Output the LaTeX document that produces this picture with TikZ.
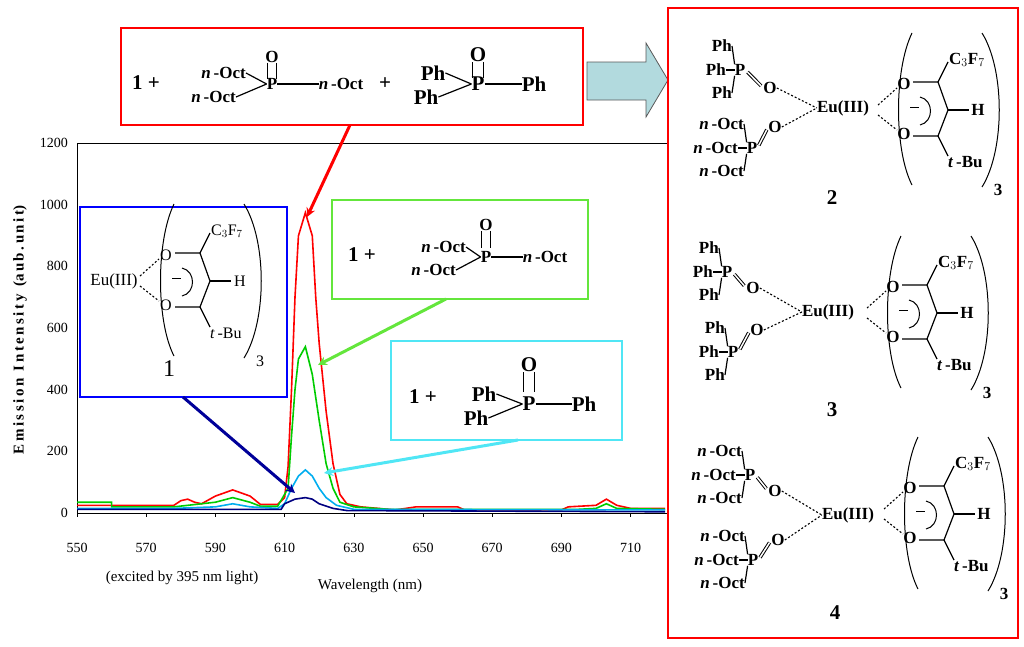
\documentclass[tikz,border=0pt]{standalone}
\usepackage{fontspec}
\setmainfont{Liberation Serif}
\usetikzlibrary{arrows.meta,calc}
\definecolor{arrfill}{RGB}{178,218,222}
\definecolor{lgreen}{RGB}{100,230,60}
\definecolor{lcyan}{RGB}{80,230,245}
\begin{document}
\begin{tikzpicture}[x=1pt,y=-1pt,
  lig/.style={font=\bfseries\fontsize{17}{17}\selectfont,inner sep=0pt},
  tick/.style={font=\fontsize{14}{14}\selectfont,inner sep=0pt},
  mol/.style={font=\bfseries\fontsize{17}{17}\selectfont,inner sep=0pt},
  big/.style={font=\bfseries\fontsize{21}{21}\selectfont,inner sep=0pt},
  bond/.style={line width=1.2pt},
  dotb/.style={line width=1.1pt,dash pattern=on 2pt off 2pt},
  spec/.style={line width=1.6pt,line join=miter},
  call/.style={line width=3pt,-{Stealth[length=9pt,width=9pt]}},
  pics/ligand/.style={code={
    \draw[line width=1pt] (20,-77) .. controls (2,-40) and (2,40) .. (20,75);
    \draw[line width=1pt] (90,-77) .. controls (113,-40) and (113,40) .. (90,77);
    \node[lig] (-Ou) at (12,-26) {O};
    \node[lig] (-Ol) at (12,24) {O};
    \draw[bond] (21,-28) -- (46,-28) -- (56,-48);
    \draw[bond] (21,26) -- (46,26) -- (56,46);
    \draw[bond] (46,-28) -- (56,0) -- (46,26);
    \draw[bond] (56,0) -- (77,0);
    \draw[line width=1pt] (28,-13) .. controls (42,-10) and (42,12) .. (28,15);
    \draw[line width=0.8pt] (18,-3) -- (27,-3);
    \node[lig,anchor=west] at (57,-50) {C$_3$F$_7$};
    \node[lig] at (86,0) {H};
    \node[lig,anchor=west] at (56,52) {\textit{t}\,-Bu};
    \node[lig] at (106,80) {3};
    \draw[dotb] (-14,-5) -- (5,-22);
    \draw[dotb] (-14,5) -- (5,20);
  }}]
\useasboundingbox (0,0) rectangle (1024,646);

% ---------- plot ----------
\draw[line width=0.8pt] (77,143) -- (668,143);
\draw[line width=0.8pt] (77,143) -- (77,513) -- (668,513);
\foreach \v/\y in {0/513,200/451.3,400/389.7,600/328,800/266.3,1000/204.7,1200/143}
  \node[tick,anchor=east] (yt\v) at (68,\y) {\v};
\foreach \v [count=\i from 0] in {550,570,590,610,630,650,670,690,710}{
  \node[tick] (xt\v) at (77+\i*69.2,548) {\v};
  \draw (77+\i*69.2,513) -- (77+\i*69.2,517);
}
\node[tick,font=\fontsize{15}{15}\selectfont] (exc) at (182,578) {(excited by 395 nm light)};
\node[tick,font=\fontsize{15}{15}\selectfont] (wl) at (370,586) {Wavelength (nm)};
\node[tick,rotate=90,font=\bfseries\fontsize{15}{15}\selectfont] (ylab) at (20,330) {E\,m\,i\,s\,s\,i\,o\,n\ \ I\,n\,t\,e\,n\,s\,i\,t\,y\ \ (a\,u\,b\,.\,u\,n\,i\,t)};

\begin{scope}[shift={(77pt,-513pt)},x=3.46pt,y=0.308pt]
\draw[spec,red] plot coordinates {(0,25) (28,25)(30,40)(32,45)(34,35)(36,30)(40,55)(45,75)(50,55)(53,28)(58,28)(60,50)(61,150)(62,400)(63,700)(64,900)(66,975)(68,900)(69,700)(70,550)(72,330)(74,160)(76,60)(78,30)(82,20)(92,10)(98,20)(110,20)(112,10)(140,10)(142,20)(150,25)(153,45)(156,25)(160,15)(170,15)};
\draw[spec,green!80!black] plot coordinates {(0,35)(10,35)(10,20)(28,20)(40,35)(45,50)(50,35)(53,22)(58,22)(61,80)(62,250)(63,400)(64,500)(66,540)(68,450)(70,300)(72,160)(74,80)(76,35)(80,20)(90,12)(145,12)(150,15)(153,30)(156,15)(170,12)};
\draw[spec,cyan] plot coordinates {(0,15)(28,15)(40,20)(45,30)(50,20)(58,15)(60,30)(62,80)(64,120)(66,140)(68,120)(70,80)(72,50)(75,25)(80,12)(170,10)};
\draw[spec,blue!50!black] plot coordinates {(0,12)(59,12)(60,30)(63,45)(66,50)(68,45)(70,30)(74,15)(78,8)(170,4)};
\end{scope}

% ---------- top box ----------
\draw[red,line width=2pt,fill=white] (121,28) rectangle (583,125);
\node[big] (t1) at (146,83) {1 +};
\node[mol] (tP1) at (272,84) {P};
\node[mol] (tO1) at (272,57) {O};
\node[mol,anchor=east] (ta) at (246,73) {\textit{n}\,-Oct};
\node[mol,anchor=east] (tb) at (236,97) {\textit{n}\,-Oct};
\node[mol] (tc) at (341,84) {\textit{n}\,-Oct};
\draw[bond] (tO1.south west)++(2.5,0) -- ++(0,16); \draw[bond] (tO1.south east)++(-2.5,0) -- ++(0,16);
\draw[bond] (ta.east) -- (tP1.west); \draw[bond] (tb.east) -- (tP1.west); \draw[bond] (tP1.east) -- (tc.west);
\node[big] (tplus) at (385,84) {+};
\node[big] (tP2) at (478,84) {P};
\node[big] (tO2) at (478,55) {O};
\node[big] (td) at (433,73) {Ph};
\node[big] (te) at (426,97) {Ph};
\node[big] (tf) at (534,84) {Ph};
\draw[bond] (tO2.south west)++(3,0) -- ++(0,16); \draw[bond] (tO2.south east)++(-3,0) -- ++(0,16);
\draw[bond] (td.east) -- (tP2.west); \draw[bond] (te.east) -- (tP2.west); \draw[bond] (tP2.east) -- (tf.west);

% block arrow
\draw[fill=arrfill, draw=gray!70!black, line width=0.8pt] (587,62) -- (646,62) -- (646,43) -- (668,80) -- (646,117) -- (646,100) -- (587,100) -- cycle;

% ---------- blue box ----------
\draw[blue,line width=2pt,fill=white] (80,207) rectangle (287,397);
\node[font=\fontsize{17}{17}\selectfont,inner sep=0pt] (eu1) at (114,281) {Eu(III)};
\begin{scope}[shift={(154pt,-281pt)},scale=0.85,lig/.style={font=\fontsize{16}{16}\selectfont,inner sep=0pt}]
\pic {ligand};
\end{scope}
\node[font=\fontsize{24}{24}\selectfont] (n1) at (169,369) {1};

% ---------- green box ----------
\draw[lgreen,line width=2pt,fill=white] (332,200) rectangle (588,299);
\node[big] (g1) at (362,255) {1 +};
\node[mol] (gP) at (486,257) {P};
\node[mol] (gO) at (486,225) {O};
\node[mol,anchor=east] (ga) at (466,247) {\textit{n}\,-Oct};
\node[mol,anchor=east] (gb) at (456,270) {\textit{n}\,-Oct};
\node[mol] (gc) at (545,257) {\textit{n}\,-Oct};
\draw[bond] (gO.south west)++(2.5,0) -- ++(0,17); \draw[bond] (gO.south east)++(-2.5,0) -- ++(0,17);
\draw[bond] (ga.east) -- (gP.west); \draw[bond] (gb.east) -- (gP.west); \draw[bond] (gP.east) -- (gc.west);

% ---------- cyan box ----------
\draw[lcyan,line width=2pt,fill=white] (391,341) rectangle (622,440);
\node[big] (c1) at (423,397) {1 +};
\node[big] (cP) at (529,404) {P};
\node[big] (cO) at (529,365) {O};
\node[big] (ca) at (484,394) {Ph};
\node[big] (cb) at (476,418) {Ph};
\node[big] (cc) at (584,404) {Ph};
\draw[bond] (cO.south west)++(3,0) -- ++(0,20); \draw[bond] (cO.south east)++(-3,0) -- ++(0,20);
\draw[bond] (ca.east) -- (cP.west); \draw[bond] (cb.east) -- (cP.west); \draw[bond] (cP.east) -- (cc.west);

% ---------- callout arrows ----------
\coordinate (rt) at (307,217); \coordinate (gt) at (318,365); \coordinate (ct) at (324,473); \coordinate (bt) at (295,493);
\draw[call,red] (350,125) -- (rt);
\draw[call,lgreen] (446,299) -- (gt);
\draw[call,lcyan] (518,440) -- (ct);
\draw[call,blue!60!black] (183,397) -- (bt);

% ---------- right panel ----------
\draw[red,line width=2pt,fill=white] (668,8) rectangle (1018,638);
\newcommand\PO[8]{% P pos, l1,l2,l3, O pos
  \node[mol] (#1P) at (#2) {P};
  \node[mol,anchor=east] (#1a) at ($(#2)+(-8,-24)$) {#3};
  \node[mol,anchor=east] (#1b) at ($(#2)+(-14,0)$) {#4};
  \node[mol,anchor=east] (#1c) at ($(#2)+(-8,23)$) {#5};
  \node[mol] (#1O) at (#6) {O};
  \draw[bond] (#1a.east) -- (#1P.north west);
  \draw[bond] (#1b.east) -- (#1P.west);
  \draw[bond] (#1c.east) -- (#1P.south west);
  \draw[line width=1pt,double,double distance=1.5pt,shorten >=3pt,shorten <=3pt] (#1P.east) -- (#1O.west);
  \draw[dotb] (#1O.east) -- (#7);
}
% compound 2
\node[mol] (eu2) at (843,108) {Eu(III)};
\PO{p2a}{740,70}{Ph}{Ph}{Ph}{770,88}{eu2.west}{}
\PO{p2b}{752,148}{\textit{n}\,-Oct}{\textit{n}\,-Oct}{\textit{n}\,-Oct}{775,127}{eu2.west}{}
\begin{scope}[shift={(892pt,-110pt)}] \pic {ligand}; \end{scope}
\node[big] (n2) at (832,198) {2};
% compound 3
\node[mol] (eu3) at (828,312) {Eu(III)};
\PO{p3a}{727,272}{Ph}{Ph}{Ph}{753,288}{eu3.west}{}
\PO{p3b}{733,352}{Ph}{Ph}{Ph}{757,330}{eu3.west}{}
\begin{scope}[shift={(881pt,-313pt)}] \pic {ligand}; \end{scope}
\node[big] (n3) at (832,410) {3};
% compound 4
\node[mol] (eu4) at (848,515) {Eu(III)};
\PO{p4a}{750,475}{\textit{n}\,-Oct}{\textit{n}\,-Oct}{\textit{n}\,-Oct}{775,491}{eu4.west}{}
\PO{p4b}{753,560}{\textit{n}\,-Oct}{\textit{n}\,-Oct}{\textit{n}\,-Oct}{778,540}{eu4.west}{}
\begin{scope}[shift={(898pt,-514pt)}] \pic {ligand}; \end{scope}
\node[big] (n4) at (835,613) {4};
\end{tikzpicture}
\end{document}
